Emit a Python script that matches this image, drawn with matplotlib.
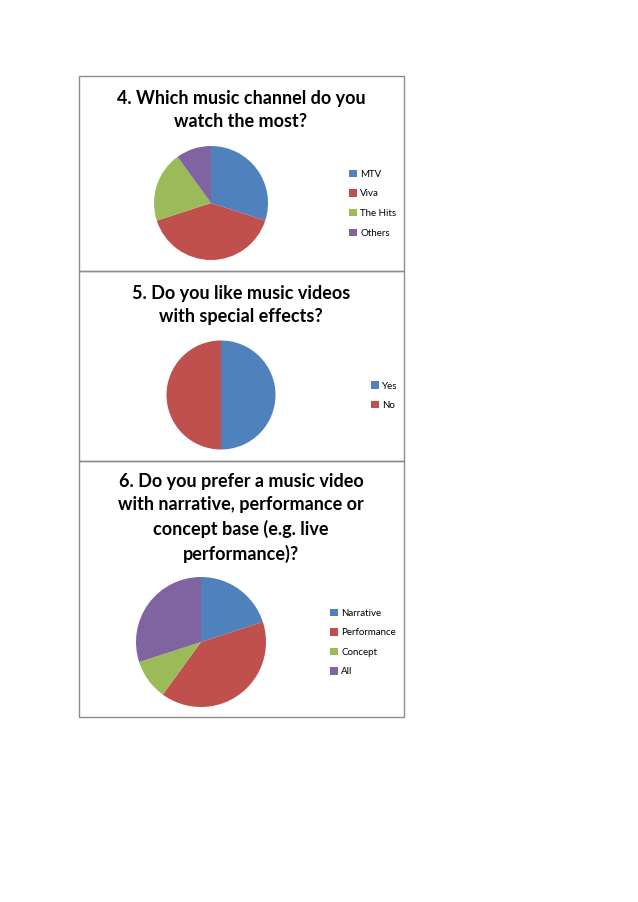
import matplotlib
matplotlib.use("Agg")
import matplotlib.pyplot as plt
from matplotlib.patches import Rectangle, Patch

W, H = 638, 902

colors = ["#4F81BD", "#C0504D", "#9BBB59", "#8064A2"]

q4_title = "4. Which music channel do you\nwatch the most?"
q4_labels = ["MTV", "Viva", "The Hits", "Others"]
q4_values = [30, 40, 20, 10]

q5_title = "5. Do you like music videos\nwith special effects?"
q5_labels = ["Yes", "No"]
q5_values = [50, 50]

q6_title = ("6. Do you prefer a music video\nwith narrative, performance or\n"
            "concept base (e.g. live\nperformance)?")
q6_labels = ["Narrative", "Performance", "Concept", "All"]
q6_values = [20, 40, 10, 30]

fig = plt.figure(figsize=(W / 100, H / 100), dpi=100)
fig.patch.set_facecolor("white")


def fx(x):
    return x / W


def fy(y):
    return 1 - y / H


# boxes (pixel coords: left, top, right, bottom)
boxes = [(79, 76, 404, 271), (79, 271, 404, 461), (79, 461, 404, 717)]
for (l, t, r, b) in boxes:
    fig.add_artist(Rectangle((fx(l), fy(b)), fx(r) - fx(l), fy(t) - fy(b),
                             transform=fig.transFigure, fill=False,
                             edgecolor="#8c8c8c", linewidth=1.0))

charts = [
    dict(title=q4_title, labels=q4_labels, values=q4_values,
         title_y=110, cx=211, cy=203, r=57, leg_x=349, leg_y=203.7),
    dict(title=q5_title, labels=q5_labels, values=q5_values,
         title_y=305, cx=221, cy=395, r=54.5, leg_x=371, leg_y=395.8),
    dict(title=q6_title, labels=q6_labels, values=q6_values,
         title_y=518, cx=201, cy=642, r=65, leg_x=330, leg_y=642.5),
]

for c in charts:
    fig.text(fx(241), fy(c["title_y"]), c["title"], ha="center", va="center",
             fontsize=13, fontweight="bold", family="Lato",
             linespacing=1.45, color="black")
    r = c["r"]
    ax = fig.add_axes([fx(c["cx"] - r), fy(c["cy"] + r), 2 * r / W, 2 * r / H])
    ax.pie(c["values"], colors=colors[:len(c["values"])], startangle=90,
           counterclock=False, radius=1.0)
    ax.set_xlim(-1, 1)
    ax.set_ylim(-1, 1)
    ax.set_aspect("auto")
    ax.axis("off")
    handles = [Patch(facecolor=colors[i], edgecolor="none")
               for i in range(len(c["labels"]))]
    fig.legend(handles, c["labels"], loc="center left",
               bbox_to_anchor=(fx(c["leg_x"]), fy(c["leg_y"])),
               bbox_transform=fig.transFigure, frameon=False,
               handlelength=0.8, handleheight=0.8,
               handletextpad=0.35, labelspacing=1.08, borderpad=0,
               borderaxespad=0, prop={"family": "Lato", "size": 7})

fig.savefig("out.png", dpi=100, facecolor="white")
